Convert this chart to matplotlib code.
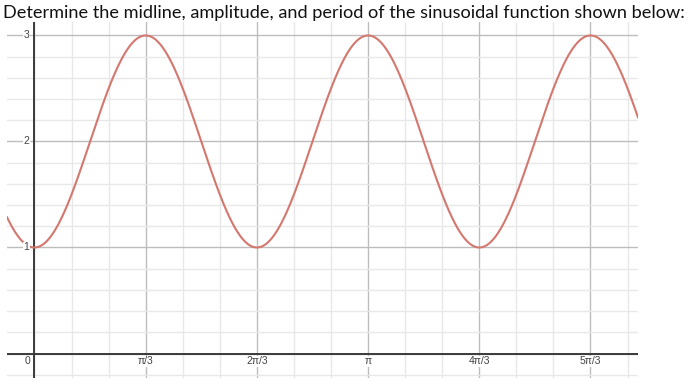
import numpy as np
import matplotlib
matplotlib.use("Agg")
import matplotlib.pyplot as plt

title = "Determine the midline, amplitude, and period of the sinusoidal function shown below:"

# sinusoid: min 1 at x=0, max 3 at pi/3
midline = 2.0
amplitude = 1.0
period = 2 * np.pi / 3

x_ticks = [0, np.pi / 3, 2 * np.pi / 3, np.pi, 4 * np.pi / 3, 5 * np.pi / 3]
x_labels = ["0", "π/3", "2π/3", "π", "4π/3", "5π/3"]
y_ticks = [1, 2, 3]
y_labels = ["1", "2", "3"]

xlim = (-0.247 * np.pi / 3, 5.427 * np.pi / 3)
ylim = (-0.231, 3.127)

fig = plt.figure(figsize=(7.0, 3.82), dpi=100)
fig.text(0.004, 0.966, title, fontsize=13.1, family="Lato", va="center", ha="left", color="#111111")

ax = fig.add_axes([0.01, 0.0105, 0.9014, 0.9319])
ax.set_xlim(*xlim)
ax.set_ylim(*ylim)
for s in ax.spines.values():
    s.set_visible(False)
ax.set_xticks([])
ax.set_yticks([])

# grid: minor every pi/9 and 0.2, major every pi/3 and 1
for k in range(-2, 18):
    xv = k * np.pi / 9
    if xlim[0] <= xv <= xlim[1]:
        major = k % 3 == 0
        ax.axvline(xv, color="#bdbdbd" if major else "#e8e8e8", lw=1.0, zorder=1)
for k in range(-2, 16):
    yv = k * 0.2
    if ylim[0] <= yv <= ylim[1]:
        major = k % 5 == 0
        ax.axhline(yv, color="#bdbdbd" if major else "#e8e8e8", lw=1.0, zorder=1)

ax.axhline(0, color="#3a3a3a", lw=1.4, zorder=2)
ax.axvline(0, color="#3a3a3a", lw=1.4, zorder=2)

xs = np.linspace(xlim[0], xlim[1], 800)
ys = midline - amplitude * np.cos(2 * np.pi * xs / period)
ax.plot(xs, ys, color="#d4776e", lw=1.5, zorder=3)

for xv, lab in zip(x_ticks, x_labels):
    dx = -0.07 if xv == 0 else 0
    ax.text(xv + dx, -0.075, lab, fontsize=7.5, family="Liberation Sans", ha="center", va="center",
            color="#444444", zorder=4, bbox=dict(facecolor="white", edgecolor="none", pad=0.5))
for yv, lab in zip(y_ticks, y_labels):
    ax.text(-0.075, yv, lab, fontsize=7.5, family="Liberation Sans", ha="center", va="center",
            color="#444444", zorder=4, bbox=dict(facecolor="white", edgecolor="none", pad=0.3))

fig.savefig("out.png", dpi=100)
